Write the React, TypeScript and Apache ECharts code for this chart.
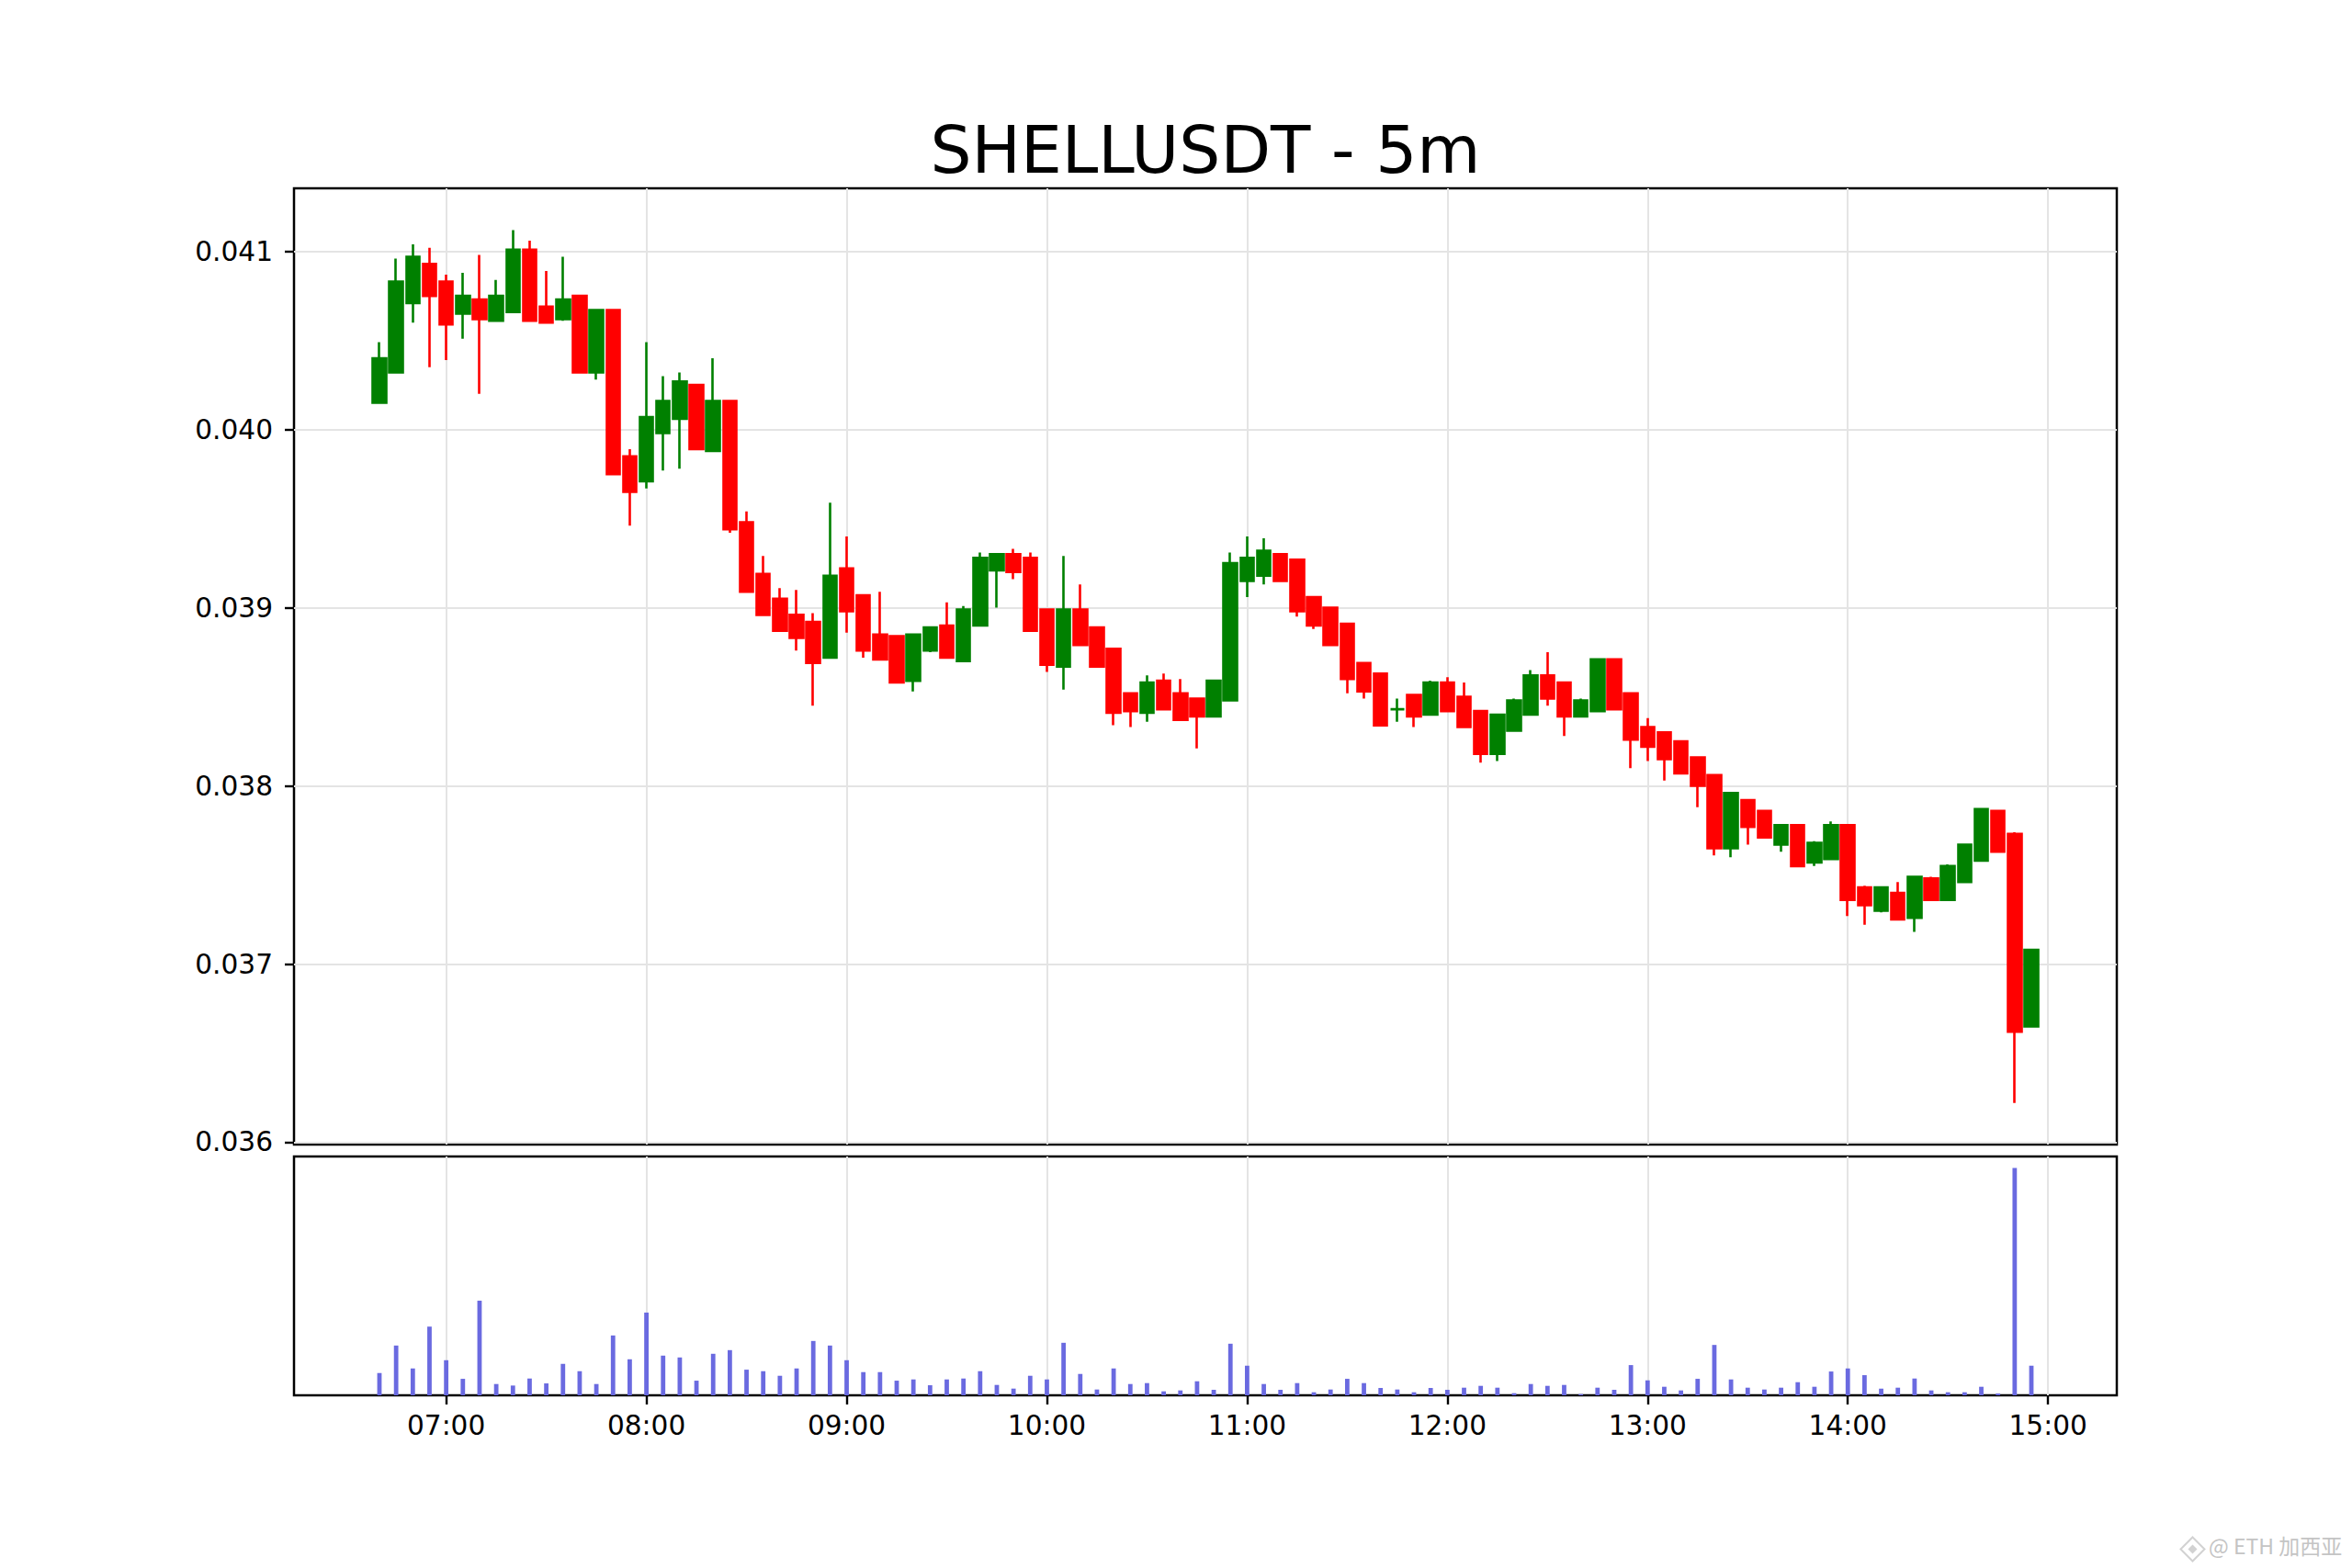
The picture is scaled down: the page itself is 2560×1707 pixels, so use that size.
import React, { useEffect, useRef } from 'react';
import * as echarts from 'echarts';

const chartTitle = 'SHELLUSDT - 5m';
const watermarkText = '@ ETH 加西亚';

const times = [
  '06:40', '06:45', '06:50', '06:55',
  '07:00', '07:05', '07:10', '07:15', '07:20', '07:25', '07:30', '07:35', '07:40', '07:45', '07:50', '07:55',
  '08:00', '08:05', '08:10', '08:15', '08:20', '08:25', '08:30', '08:35', '08:40', '08:45', '08:50', '08:55',
  '09:00', '09:05', '09:10', '09:15', '09:20', '09:25', '09:30', '09:35', '09:40', '09:45', '09:50', '09:55',
  '10:00', '10:05', '10:10', '10:15', '10:20', '10:25', '10:30', '10:35', '10:40', '10:45', '10:50', '10:55',
  '11:00', '11:05', '11:10', '11:15', '11:20', '11:25', '11:30', '11:35', '11:40', '11:45', '11:50', '11:55',
  '12:00', '12:05', '12:10', '12:15', '12:20', '12:25', '12:30', '12:35', '12:40', '12:45', '12:50', '12:55',
  '13:00', '13:05', '13:10', '13:15', '13:20', '13:25', '13:30', '13:35', '13:40', '13:45', '13:50', '13:55',
  '14:00', '14:05', '14:10', '14:15', '14:20', '14:25', '14:30', '14:35', '14:40', '14:45', '14:50', '14:55',
];

const opens = [
  0.04015, 0.04032, 0.04071, 0.04093, 0.04083, 0.04065, 0.04073, 0.04061, 0.04066, 0.04101,
  0.04069, 0.04062, 0.04075, 0.04032, 0.04067, 0.03985, 0.03971, 0.03998, 0.04006, 0.04025,
  0.03988, 0.04016, 0.03948, 0.03919, 0.03905, 0.03896, 0.03892, 0.03872, 0.03922, 0.03907,
  0.03885, 0.03884, 0.03859, 0.03876, 0.03890, 0.03870, 0.03890, 0.03921, 0.03930, 0.03928,
  0.03899, 0.03867, 0.03899, 0.03889, 0.03877, 0.03852, 0.03841, 0.03859, 0.03852, 0.03849,
  0.03839, 0.03848, 0.03915, 0.03918, 0.03930, 0.03927, 0.03906, 0.03900, 0.03891, 0.03869,
  0.03863, 0.03843, 0.03851, 0.03840, 0.03858, 0.03850, 0.03842, 0.03818, 0.03831, 0.03840,
  0.03862, 0.03858, 0.03839, 0.03842, 0.03871, 0.03852, 0.03833, 0.03830, 0.03825, 0.03816,
  0.03806, 0.03765, 0.03792, 0.03786, 0.03767, 0.03778, 0.03757, 0.03759, 0.03778, 0.03743,
  0.03730, 0.03740, 0.03726, 0.03748, 0.03736, 0.03746, 0.03758, 0.03786, 0.03773, 0.03665,
];

const highs = [
  0.04049, 0.04096, 0.04104, 0.04102, 0.04087, 0.04088, 0.04098, 0.04084, 0.04112, 0.04106,
  0.04089, 0.04097, 0.04075, 0.04067, 0.04067, 0.03989, 0.04049, 0.04030, 0.04032, 0.04025,
  0.04040, 0.04016, 0.03954, 0.03929, 0.03911, 0.03910, 0.03897, 0.03959, 0.03940, 0.03907,
  0.03909, 0.03884, 0.03885, 0.03889, 0.03903, 0.03901, 0.03931, 0.03930, 0.03933, 0.03931,
  0.03899, 0.03929, 0.03913, 0.03889, 0.03877, 0.03852, 0.03862, 0.03863, 0.03860, 0.03849,
  0.03859, 0.03931, 0.03940, 0.03939, 0.03930, 0.03927, 0.03906, 0.03900, 0.03891, 0.03869,
  0.03863, 0.03849, 0.03851, 0.03859, 0.03861, 0.03858, 0.03842, 0.03840, 0.03849, 0.03865,
  0.03875, 0.03858, 0.03849, 0.03871, 0.03871, 0.03852, 0.03838, 0.03830, 0.03825, 0.03816,
  0.03806, 0.03796, 0.03792, 0.03786, 0.03778, 0.03778, 0.03769, 0.03780, 0.03778, 0.03744,
  0.03743, 0.03746, 0.03749, 0.03749, 0.03756, 0.03767, 0.03787, 0.03786, 0.03774, 0.03708,
];

const lows = [
  0.04015, 0.04032, 0.04060, 0.04035, 0.04039, 0.04051, 0.04020, 0.04061, 0.04066, 0.04061,
  0.04060, 0.04061, 0.04032, 0.04028, 0.03975, 0.03946, 0.03967, 0.03977, 0.03978, 0.03989,
  0.03988, 0.03942, 0.03909, 0.03896, 0.03887, 0.03876, 0.03845, 0.03872, 0.03886, 0.03872,
  0.03871, 0.03858, 0.03853, 0.03875, 0.03872, 0.03870, 0.03890, 0.03900, 0.03916, 0.03887,
  0.03864, 0.03854, 0.03879, 0.03867, 0.03834, 0.03833, 0.03836, 0.03843, 0.03837, 0.03821,
  0.03839, 0.03848, 0.03906, 0.03913, 0.03915, 0.03895, 0.03888, 0.03879, 0.03852, 0.03849,
  0.03834, 0.03836, 0.03833, 0.03840, 0.03842, 0.03833, 0.03813, 0.03814, 0.03831, 0.03840,
  0.03845, 0.03828, 0.03839, 0.03842, 0.03843, 0.03810, 0.03814, 0.03803, 0.03807, 0.03788,
  0.03761, 0.03760, 0.03767, 0.03771, 0.03763, 0.03755, 0.03755, 0.03759, 0.03727, 0.03722,
  0.03729, 0.03725, 0.03718, 0.03736, 0.03736, 0.03746, 0.03758, 0.03763, 0.03622, 0.03665,
];

const closes = [
  0.04040, 0.04083, 0.04097, 0.04075, 0.04059, 0.04075, 0.04062, 0.04075, 0.04101, 0.04061,
  0.04060, 0.04073, 0.04032, 0.04067, 0.03975, 0.03965, 0.04007, 0.04016, 0.04027, 0.03989,
  0.04016, 0.03944, 0.03909, 0.03896, 0.03887, 0.03883, 0.03869, 0.03918, 0.03898, 0.03876,
  0.03871, 0.03858, 0.03885, 0.03889, 0.03872, 0.03899, 0.03928, 0.03930, 0.03920, 0.03887,
  0.03868, 0.03899, 0.03879, 0.03867, 0.03841, 0.03842, 0.03858, 0.03843, 0.03837, 0.03839,
  0.03859, 0.03925, 0.03928, 0.03932, 0.03915, 0.03898, 0.03890, 0.03879, 0.03860, 0.03853,
  0.03834, 0.03843, 0.03839, 0.03858, 0.03842, 0.03833, 0.03818, 0.03840, 0.03848, 0.03862,
  0.03849, 0.03839, 0.03848, 0.03871, 0.03843, 0.03826, 0.03822, 0.03815, 0.03807, 0.03800,
  0.03765, 0.03796, 0.03777, 0.03771, 0.03778, 0.03755, 0.03768, 0.03778, 0.03736, 0.03733,
  0.03743, 0.03725, 0.03749, 0.03736, 0.03755, 0.03767, 0.03787, 0.03763, 0.03662, 0.03708,
];

const volumes = [
  73, 163, 88, 225, 115, 54, 310, 37, 32, 55,
  39, 103, 79, 37, 196, 118, 271, 130, 124, 48,
  136, 148, 84, 79, 64, 88, 178, 163, 115, 76,
  76, 48, 52, 33, 52, 55, 79, 34, 22, 64,
  52, 172, 70, 19, 88, 37, 40, 13, 16, 46,
  18, 169, 97, 37, 18, 40, 10, 19, 54, 40,
  24, 19, 10, 24, 18, 25, 31, 25, 7, 37,
  31, 34, 4, 25, 18, 99, 49, 28, 16, 54,
  165, 52, 25, 19, 25, 43, 28, 78, 88, 66,
  22, 25, 55, 16, 10, 10, 28, 6, 745, 97,
];

const hourLabels = ['07:00', '08:00', '09:00', '10:00', '11:00', '12:00', '13:00', '14:00', '15:00'];
const priceTicks = [0.036, 0.037, 0.038, 0.039, 0.040, 0.041];

// axis ranges (minutes since midnight / price)
const xRange = ['06:14:24', '15:20:36'];
const priceRange = [0.035987, 0.041354];

const toMin = (s: string) => {
  const p = s.split(':').map(Number);
  return p[0] * 60 + p[1] + (p[2] || 0) / 60;
};
const fmtMin = (v: number) => {
  const r = Math.round(v);
  const h = Math.floor(r / 60);
  const m = r % 60;
  return String(h).padStart(2, '0') + ':' + String(m).padStart(2, '0');
};

const FONT = 'DejaVu Sans';
const GREEN = '#008000';
const RED = '#ff0000';
const GRID_COLOR = '#e4e4e4';

export default function App() {
  const ref = useRef<HTMLDivElement>(null);

  useEffect(() => {
    document.body.style.margin = '0';
    if (!ref.current) return;
    const chart = echarts.init(ref.current, undefined, { renderer: 'svg' });

    const xs = times.map(toMin);
    const hourVals = hourLabels.map(toMin);
    const xMin = toMin(xRange[0]);
    const xMax = toMin(xRange[1]);
    const candleData = xs.map((x, i) => [x, opens[i], closes[i], lows[i], highs[i]]);
    const volData = xs.map((x, i) => [x, volumes[i]]);
    const volMax = Math.max(...volumes) * 1.05;

    const tickStyle = { show: true, length: 10, lineStyle: { color: '#000', width: 2.4 } };
    const labelStyle = { color: '#000', fontSize: 29.6, fontFamily: FONT };

    const option: any = {
      animation: false,
      backgroundColor: '#ffffff',
      title: {
        text: chartTitle,
        left: 1312,
        top: 128,
        padding: 0,
        textAlign: 'center',
        textStyle: { fontSize: 71, fontFamily: FONT, fontWeight: 'normal', color: '#000', lineHeight: 71 },
      },
      grid: [
        { left: 320, top: 205, width: 1984, height: 1041, show: true, borderColor: '#000', borderWidth: 2.5, backgroundColor: 'transparent' },
        { left: 320, top: 1259, width: 1984, height: 260, show: true, borderColor: '#000', borderWidth: 2.5, backgroundColor: 'transparent' },
      ],
      xAxis: [
        {
          type: 'value', gridIndex: 0, min: xMin, max: xMax,
          axisLine: { show: false, onZero: false },
          axisTick: { show: false, customValues: hourVals },
          axisLabel: { show: false, customValues: hourVals },
          splitLine: { show: true, lineStyle: { color: GRID_COLOR, width: 2 } },
        },
        {
          type: 'value', gridIndex: 1, min: xMin, max: xMax,
          axisLine: { show: false, onZero: false },
          axisTick: { ...tickStyle, customValues: hourVals },
          axisLabel: { ...labelStyle, customValues: hourVals, margin: 18, lineHeight: 30, formatter: (v: number) => fmtMin(v) },
          splitLine: { show: true, lineStyle: { color: GRID_COLOR, width: 2 } },
        },
      ],
      yAxis: [
        {
          type: 'value', gridIndex: 0, min: priceRange[0], max: priceRange[1],
          axisLine: { show: false, onZero: false },
          axisTick: { ...tickStyle, customValues: priceTicks },
          axisLabel: { ...labelStyle, customValues: priceTicks, margin: 23, formatter: (v: number) => v.toFixed(3) },
          splitLine: { show: true, lineStyle: { color: GRID_COLOR, width: 2 } },
        },
        {
          type: 'value', gridIndex: 1, min: 0, max: volMax,
          axisLine: { show: false }, axisTick: { show: false }, axisLabel: { show: false }, splitLine: { show: false },
        },
      ],
      series: [
        {
          type: 'candlestick',
          name: 'SHELLUSDT',
          xAxisIndex: 0, yAxisIndex: 0,
          barWidth: 15,
          data: candleData,
          itemStyle: {
            color: GREEN, color0: RED,
            borderColor: GREEN, borderColor0: RED, borderColorDoji: GREEN,
            borderWidth: 2.6,
          },
        },
        {
          type: 'bar',
          name: 'Volume',
          xAxisIndex: 1, yAxisIndex: 1,
          barWidth: 4.8,
          data: volData,
          itemStyle: { color: '#6a6ae0' },
        },
      ],
      graphic: [
        {
          type: 'group', left: 2371, top: 1671, silent: true,
          children: [
            { type: 'polygon', shape: { points: [[13, 0], [26, 13], [13, 26], [0, 13]] }, style: { fill: 'none', stroke: '#d2d2d2', lineWidth: 2 } },
            { type: 'polygon', shape: { points: [[13, 8], [18, 13], [13, 18], [8, 13]] }, style: { fill: '#d2d2d2' } },
          ],
        },
        {
          type: 'text', left: 2404, top: 1670, silent: true,
          style: { text: watermarkText, fontSize: 23, fontFamily: 'Noto Sans CJK SC', fill: '#c4c4c4' },
        },
      ],
    };

    chart.setOption(option);
    return () => chart.dispose();
  }, []);

  return <div ref={ref} style={{ width: 2560, height: 1707 }} />;
}
